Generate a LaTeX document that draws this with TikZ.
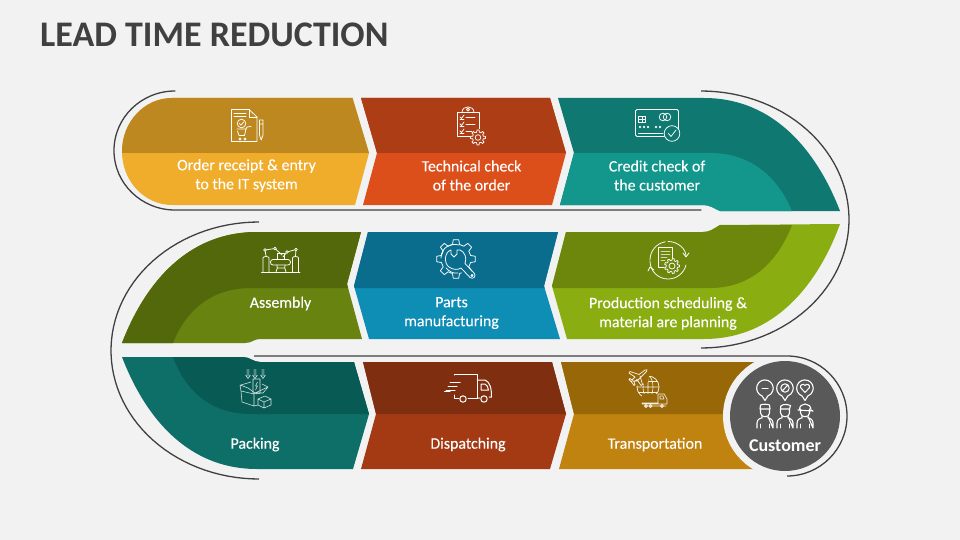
\documentclass[tikz,border=0pt]{standalone}
\usepackage{fontspec}
\setmainfont{Carlito}
\newfontfamily\labfont[FakeBold=0.12]{Carlito}
\definecolor{bg}{HTML}{F2F2F2}
\definecolor{rule}{HTML}{404040}
\definecolor{aD}{HTML}{BC881F}\definecolor{aL}{HTML}{F0AC2B}
\definecolor{bD}{HTML}{AD3D15}\definecolor{bL}{HTML}{DC4F1B}
\definecolor{cD}{HTML}{0F7870}\definecolor{cL}{HTML}{13978C}
\definecolor{dD}{HTML}{6D870D}\definecolor{dL}{HTML}{8AAE12}
\definecolor{eD}{HTML}{0A6D8E}\definecolor{eL}{HTML}{0E8DB5}
\definecolor{fD}{HTML}{52680A}\definecolor{fL}{HTML}{68830F}
\definecolor{gD}{HTML}{085A54}\definecolor{gL}{HTML}{0E6F69}
\definecolor{hD}{HTML}{802E10}\definecolor{hL}{HTML}{A33A13}
\definecolor{iD}{HTML}{986707}\definecolor{iL}{HTML}{C0830F}
\definecolor{custom}{HTML}{595959}
\tikzset{
  lab/.style={text=white,font=\labfont\fontsize{15.9}{19}\selectfont,align=center,inner sep=0pt},
  ic/.style={draw=white,line width=.75pt,line join=round,line cap=round},
  icthin/.style={draw=white!85!gD,line width=.55pt,line join=round},
  wire/.style={draw=rule,line width=1.3pt}
}
% gear: cx cy outer inner teeth
\newcommand{\gearicon}[5]{%
  \pgfmathsetmacro{\gs}{360/#5}%
  \draw[ic] ({#1+#4*cos(-0.3*\gs)},{#2+#4*sin(-0.3*\gs)})
    \foreach \i in {1,...,#5}{
      -- ({#1+#3*cos((\i-1)*\gs-0.18*\gs)},{#2+#3*sin((\i-1)*\gs-0.18*\gs)})
      -- ({#1+#3*cos((\i-1)*\gs+0.18*\gs)},{#2+#3*sin((\i-1)*\gs+0.18*\gs)})
      -- ({#1+#4*cos((\i-1)*\gs+0.3*\gs)},{#2+#4*sin((\i-1)*\gs+0.3*\gs)})
      -- ({#1+#4*cos(\i*\gs-0.3*\gs)},{#2+#4*sin(\i*\gs-0.3*\gs)})
    } -- cycle;}
\begin{document}
\begin{tikzpicture}[x=1pt,y=-1pt]
\useasboundingbox (0,0) rectangle (960,540);
\fill[bg] (0,0) rectangle (960,540);
\node[anchor=west,inner sep=0pt,text=rule,font=\fontsize{36}{40}\selectfont\bfseries] (title) at (40,34.5) {LEAD TIME REDUCTION};
% ---- row 1
\fill[aL] (172,98) -- (352.5,98) -- (369,153) -- (355,205) -- (172,205)
  arc[start angle=270,end angle=90,x radius=50pt,y radius=53.5pt] -- cycle;
\begin{scope}\clip (100,90) rectangle (380,153);
\fill[aD] (172,98) -- (352.5,98) -- (369,153) -- (355,205) -- (172,205)
  arc[start angle=270,end angle=90,x radius=50pt,y radius=53.5pt] -- cycle;
\end{scope}
\fill[bL] (361,98) -- (550,98) -- (566,153) -- (552,205) -- (363,205) -- (377,153) -- cycle;
\fill[bD] (361,98) -- (550,98) -- (566,153) -- (377,153) -- cycle;
\fill[cD] (558,98) -- (704,98) .. controls (791,98) and (828,180) .. (840,211)
  -- (720,211) .. controls (713,208) and (710,205) .. (703,205) -- (560,205) -- (574,153) -- cycle;
\fill[cL] (574,153) -- (710,153) .. controls (752,153) and (778,178) .. (792,211)
  -- (720,211) .. controls (713,208) and (710,205) .. (703,205) -- (560,205) -- cycle;
% ---- row 2
\fill[dL] (566,232) -- (703,232) .. controls (710,232) and (713,229) .. (720,225) -- (840,224)
  .. controls (828,257) and (791,339) .. (704,339)
  -- (567,339) -- (552,286) -- cycle;
\fill[dD] (566,232) -- (703,232) .. controls (710,232) and (713,229) .. (720,225) -- (792,225)
  .. controls (778,261) and (752,288) .. (710,288)
  -- (553,288) -- (552,286) -- cycle;
\fill[eL] (368,232) -- (558,232) -- (544,286) -- (560,339) -- (369,339) -- (354,286) -- cycle;
\fill[eD] (368,232) -- (558,232) -- (544,286) -- (544.6,288) -- (354.6,288) -- (354,286) -- cycle;
\fill[fL] (361,232) -- (257,232) .. controls (170,232) and (134,312) .. (122,343)
  -- (245,343) .. controls (252,343) and (254,339) .. (260,339) -- (362,339) -- (347,284) -- cycle;
\fill[fD] (361,232) -- (257,232) .. controls (170,232) and (134,312) .. (122,343)
  -- (173,343) .. controls (185,312) and (210,288) .. (251,288)
  -- (348,288) -- (347,284) -- cycle;
% ---- row 3
\fill[gL] (122,357) -- (243,357) .. controls (250,357) and (253,362) .. (260,362) -- (354,362)
  -- (369,414) -- (353,469) -- (257,469)
  .. controls (170,469) and (134,388) .. (122,357) -- cycle;
\fill[gD] (173,357) -- (243,357) .. controls (250,357) and (253,362) .. (260,362) -- (354,362)
  -- (369,414) -- (251,414)
  .. controls (210,414) and (185,390) .. (173,357) -- cycle;
\fill[hL] (363,362) -- (552,362) -- (566,414) -- (550,469) -- (361,469) -- (376,414) -- cycle;
\fill[hD] (363,362) -- (552,362) -- (566,414) -- (376,414) -- cycle;
\fill[iL] (561,362) -- (790,362) -- (790,469) -- (559,469) -- (574,414) -- cycle;
\fill[iD] (561,362) -- (790,362) -- (790,414) -- (574,414) -- cycle;
\fill[bg] (785,416) circle[radius=62pt];
\node[circle,fill=custom,minimum size=110pt,inner sep=0pt] (cust) at (785,416) {};
% ---- wires
\draw[wire,line cap=round] (175,91) arc[start angle=90,end angle=270,x radius=61pt,y radius=59.5pt] -- (701,210);
\draw[wire] plot[domain=90:-90,samples=60] ({701+148*cos(\x)},{219.5-128.5*sin(\x)});
\draw[wire] plot[domain=90:270,samples=60] ({259+148*cos(\x)},{350.5-128.5*sin(\x)});
\draw[wire] (254,356) -- (787,356) arc[start angle=90,end angle=-90,x radius=60pt,y radius=60pt];
% ---- labels
\node[lab] (t1) at (246.5,175.5) {Order receipt \& entry\\to the IT system};
\node[lab] (t2) at (471.5,175.5) {Technical check\\of the order};
\node[lab] (t3) at (657,175.5) {Credit check of\\the customer};
\node[lab] (t4) at (280.5,303.5) {Assembly};
\node[lab] (t5) at (451.5,313) {Parts\\manufacturing};
\node[lab] (t6) at (668,313.5) {Production scheduling \&\\material are planning};
\node[lab] (t7) at (255,444.5) {Packing};
\node[lab] (t8) at (468,444.5) {Dispatching};
\node[lab] (t9) at (655,444.5) {Transportation};
\node[lab,font=\fontsize{18}{20}\selectfont\bfseries] (t10) at (785,446) {Customer};
% ---- icon 1: order
\draw[ic] (231.5,109.5) -- (249,109.5) -- (257,117) -- (257,141.5) -- (231.5,141.5) -- cycle;
\draw[ic] (249,109.5) -- (249,117) -- (257,117);
\draw[ic] (234,113) -- (246,113) (234,116) -- (246,116);
\draw[ic] (241.5,123.5) circle[radius=4.3pt];
\draw[ic] (239.5,123.5) -- (241,125.2) -- (243.8,121.8);
\draw[ic] (237,129) -- (246,129) -- (244.5,135.5) -- (239,135.5) -- (237.5,131);
\draw[ic] (246,129) -- (247,127) -- (251,126.5);
\draw[ic] (240,139) circle[radius=1.2pt] (245,139) circle[radius=1.2pt];
\draw[ic] (259.5,120) -- (263,120) -- (263,135) -- (261.2,140) -- (259.5,135) -- cycle (259.5,124) -- (263,124);
% ---- icon 2: checklist + gear
\draw[ic] (472,136) -- (457.5,136) -- (457.5,112.5) -- (479,112.5) -- (479,129);
\draw[ic] (462,112.5) .. controls (462,105) and (474,105) .. (474,112.5);
\draw[ic] (468,109.5) circle[radius=1.5pt];
\foreach \yy in {117,124,131}{
  \draw[ic] (460,\yy) -- (461.5,\yy+1.5) -- (464,\yy-2);
  \draw[ic] (466,\yy) -- (475,\yy) (460,\yy+2.5) -- (464,\yy+2.5);
}
\fill[bD] (478,137) circle[radius=8pt];
\gearicon{478}{137.5}{7.5}{5.5}{8}
\draw[ic] (478,137.5) circle[radius=2.8pt];
% ---- icon 3: card
\draw[ic,rounded corners=1.5pt] (635.5,109.5) rectangle (678.5,136.5);
\draw[ic] (638.5,116.5) rectangle (645.5,122.5) (642,116.5) -- (642,122.5) (638.5,119.5) -- (645.5,119.5);
\draw[ic] (663,117) circle[radius=3.8pt] (667,117) circle[radius=3.8pt];
\foreach \xx in {640,644,648,656,660}{\draw[ic,line width=.6pt] (\xx-1,127-1) -- (\xx+1,127+1) (\xx-1,127+1) -- (\xx+1,127-1);}
\draw[ic] (638.5,133) -- (663,133);
\fill[cD] (672,133.5) circle[radius=8pt];
\draw[ic] (672,133.5) circle[radius=7.8pt];
\draw[ic] (668.5,133.5) -- (671,136.5) -- (676,130);
% ---- icon 4: assembly robot
\draw[ic] (261.5,272) -- (300,272);
\draw[ic] (263,272) -- (263,258) .. controls (263,256) and (269,256) .. (269,258) -- (269,272);
\draw[ic] (292.5,272) -- (292.5,258) .. controls (292.5,256) and (298.5,256) .. (298.5,258) -- (298.5,272);
\draw[ic] (266,256) -- (265,250) -- (275,248.5) -- (282,255);
\draw[ic] (295.5,256) -- (296,249.5) -- (287,252) -- (283,257);
\draw[ic,fill=fD] (265,250) circle[radius=1.3pt] (275,248.5) circle[radius=1.3pt] (296,249.5) circle[radius=1.3pt] (287,252) circle[radius=1.3pt];
\draw[ic] (277,259.5) -- (277,253) -- (284,253) -- (284,259.5);
\draw[ic,rounded corners=2.5pt] (270.5,259.5) rectangle (290.5,265);
\draw[ic] (277,265) .. controls (278,268) and (277,268) .. (276,272) (285,265) .. controls (284,268) and (285,268) .. (286,272) (277,268) -- (285,268);
% ---- icon 5: gear + wrench
\gearicon{456}{259}{19.5}{15}{8}
\fill[eD] (467,268) -- (477,276) -- (471,281) -- (461,272) -- cycle;
\draw[ic] (451,250) .. controls (444,252) and (444,264) .. (449,267) .. controls (453,270) and (458,270) .. (461,268)
  -- (470,277.5) .. controls (473,280) and (477,276) .. (474,273) -- (465,263.5)
  .. controls (467,258) and (465,252) .. (460,250) -- (457,250) -- (457,254) -- (454,257) -- (451,254) -- cycle;
\draw[ic] (441,258) .. controls (441,247) and (451,243) .. (459,245) (446,268) .. controls (449,271) and (453,274) .. (458,273);
\draw[ic] (472,275.5) circle[radius=1pt];
% ---- icon 6: cycle, doc, gear
\draw[ic] (650,260) arc[start angle=180,end angle=100,radius=18.5pt];
\draw[ic] (668,241.5) .. controls (678,241.5) and (686,249) .. (686,256);
\draw[ic] (650,261) .. controls (650,271) and (658,279) .. (668,279) .. controls (677,279) and (684,273) .. (686,265);
\draw[ic] (683,253) -- (686,257) -- (689,253);
\draw[ic] (648,271) -- (650,267) -- (654,270);
\draw[ic] (664,267.5) -- (658.5,267.5) -- (658.5,247.5) -- (672.5,247.5) -- (672.5,258);
\draw[ic,line width=.9pt,draw=white!70!dD] (661,251) -- (670,251) (661,254) -- (670,254) (661,257) -- (667,257) (661,260) -- (665,260);
\gearicon{672}{266}{7.5}{5.7}{9}
\draw[ic] (672,266) circle[radius=3pt];
% ---- icon 7: box
\foreach \xx in {248,255,263}{
  \draw[icthin] (\xx-.9,369) -- (\xx-.9,376) (\xx+.9,369) -- (\xx+.9,376) (\xx-2.5,375) -- (\xx,378.5) -- (\xx+2.5,375);
}
\draw[icthin] (253,382) -- (253,393) .. controls (253,394) and (260,394) .. (260,393) -- (260,379) -- (253,379) -- (253,382);
\draw[icthin] (257.5,382) -- (255.5,386) -- (257.5,386) -- (255.5,390);
\draw[icthin] (241,385) -- (251,382) (254,394) -- (241,391) -- (240,385) -- (248,388) -- (255,393) -- (268,387) -- (262,384) (268,387) -- (263,393) -- (255,393);
\draw[icthin] (241,391) -- (242,402) -- (254,406) -- (254,394);
\draw[icthin] (254,406) -- (258,405);
\draw[icthin] (258,399) -- (265,396) -- (271,399) -- (271,405) -- (264,408) -- (258,405) -- cycle (258,399) -- (264,402) -- (271,399) (264,402) -- (264,408);
% ---- icon 8: truck
\draw[ic,line width=1pt] (454.5,375) -- (454.5,374.5) -- (477,374.5) -- (477,398) -- (468,398) (458.5,398) -- (454.5,398) -- (454.5,395);
\draw[ic,line width=1pt] (477,380) -- (485,380) .. controls (490,382) and (491.5,388) .. (491.5,397) -- (489,397) (479.5,398) -- (477,398);
\draw[ic,line width=1pt] (481,384) -- (485,384) .. controls (487,385) and (488,387) .. (488.5,390) -- (481,390) -- cycle;
\draw[ic,line width=1pt] (463,399) circle[radius=3.2pt] (484,399) circle[radius=3.2pt];
\draw[ic,line width=1pt] (450,382.5) -- (460,382.5) (448,386.5) -- (457,386.5) (446,390.5) -- (455,390.5) (444.5,391) -- (450,391);
% ---- icon 9: globe, plane, truck
\draw[ic,draw=white!90!iD] (648,387) circle[radius=11pt];
\draw[ic,draw=white!90!iD,line width=.6pt] (648,387) ellipse[x radius=5pt,y radius=11pt] (648,376) -- (648,398) (637,387) -- (659,387) (638.5,381.5) -- (657.5,381.5) (638.5,392.5) -- (657.5,392.5);
\fill[iD] (629,369) -- (650,369) -- (648,382) -- (636,386) -- cycle;
\draw[ic,draw=white!90!iD] (632,381) -- (637,381) -- (646.5,371.5) .. controls (648,370) and (647,369) .. (645,370) -- (639,374.5) -- (630,371.5) -- (629,373) -- (635,377) -- (632,380) -- (630,378.5) -- (629,379.5) -- (631.5,382) -- (634,385.5) -- (635,384.5) -- (634,382) -- (637,379.5) -- (641,385.5) -- (642.5,384.5) -- (640,376);
\fill[iD] (642,394) rectangle (668,408);
\draw[ic,draw=white!90!iD,line width=.6pt] (642,403) -- (658,403) -- (658,394) -- (664,394) -- (667,399) -- (667,404) -- (642,404) (660,396) -- (663,396) -- (664,399) -- (660,399) -- cycle;
\draw[ic,draw=white!90!iD,line width=.6pt] (644,406) -- (666,406) (646,406) circle[radius=1.6pt] (650.5,406) circle[radius=1.6pt] (662,406) circle[radius=1.6pt];
% ---- icon 10: customers
\foreach \xx in {765,785,805}{
  \draw[ic,line width=1.1pt] (\xx-2.9,396) arc[start angle=-110,end angle=-430,radius=8.3pt] -- (\xx,400.5) -- cycle;
  \draw[ic,line width=1.1pt] (\xx-8,428) -- (\xx-8,423) .. controls (\xx-8,419) and (\xx-4,418) .. (\xx-3,418) -- (\xx-3,416.5) (\xx+3,416.5) -- (\xx+3,418) .. controls (\xx+4,418) and (\xx+8,419) .. (\xx+8,423) -- (\xx+8,428) -- cycle;
  \draw[ic,line width=.9pt] (\xx-4.5,428) -- (\xx-4.5,424) (\xx+4.5,428) -- (\xx+4.5,424);
  \draw[ic,line width=1.1pt] (\xx-4.5,409) -- (\xx-4.5,413) .. controls (\xx-4.5,418) and (\xx+4.5,418) .. (\xx+4.5,413) -- (\xx+4.5,409);
}
% faces on the pins
\draw[ic,line width=1pt] (762,388) -- (768,388);
\draw[ic,line width=1pt] (785,388) circle[radius=4.2pt] (782.2,391) -- (787.8,385);
\draw[ic,line width=1pt] (805,392.5) -- (800.5,387.5) .. controls (799.5,385) and (803.5,383) .. (805,385.5) .. controls (806.5,383) and (810.5,385) .. (809.5,387.5) -- cycle;
% hats
\draw[ic,line width=1.1pt] (760,409) -- (760.5,405) .. controls (762,404) and (768,404) .. (769.5,405) -- (770,409) -- cycle;
\draw[ic,line width=1.1pt] (780.5,409) .. controls (779,404) and (786,403.5) .. (790.5,405.5) -- (789.5,409) -- cycle;
\draw[ic,line width=1.1pt] (799.5,410) .. controls (799,402) and (811,402) .. (811,410) -- (813,411) -- (798,410) -- cycle;
\end{tikzpicture}
\end{document}
